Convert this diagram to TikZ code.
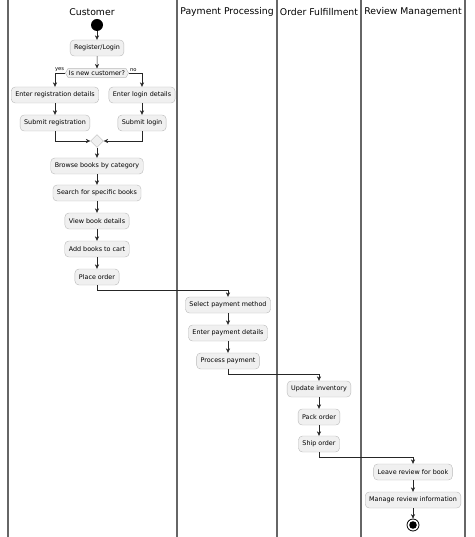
\documentclass[tikz,border=0pt]{standalone}
\usepackage{fontspec}
\setmainfont{DejaVu Sans}
\usetikzlibrary{arrows.meta,shapes.geometric,shapes.symbols}
\begin{document}
\begin{tikzpicture}[x=1pt,y=-1pt,
  act/.style={draw=gray!55,fill=gray!12,rounded corners=4pt,minimum height=16pt,
    inner xsep=4pt,inner ysep=1pt,font=\fontsize{6.4}{7.5}\selectfont},
  dec/.style={signal,signal to=west and east,signal pointer angle=120,draw=gray!55,
    fill=gray!12,inner xsep=1pt,inner ysep=2pt,font=\fontsize{6.4}{7.5}\selectfont},
  merge/.style={diamond,draw=gray!55,fill=gray!12,minimum size=13pt,inner sep=0pt},
  flow/.style={draw=black!85,line width=0.5pt,-{Stealth[length=4.5pt,width=4.2pt,inset=1.5pt]}},
  lane/.style={draw=black!60,line width=1.2pt},
  lanetitle/.style={font=\fontsize{9.3}{11}\selectfont},
  lbl/.style={font=\fontsize{5.2}{6}\selectfont,inner sep=1pt}]
  \useasboundingbox (0,0) rectangle (474,537);
  % Lanes
  \foreach \x in {8,177,277,361,465}
    \draw[lane] (\x,0) -- (\x,537);
  \node[lanetitle] (tcust) at (92,12) {Customer};
  \node[lanetitle] (tpay) at (227,12) {Payment Processing};
  \node[lanetitle] (tord) at (319,12) {Order Fulfillment};
  \node[lanetitle] (trev) at (413,12) {Review Management};
  % Customer
  \node[circle,fill=black,minimum size=12pt,inner sep=0pt] (start) at (97,25) {};
  \node[act] (login) at (97,48) {Register/Login};
  \node[dec] (isnew) at (97,73) {Is new customer?};
  \node[act] (entreg) at (55,95) {Enter registration details};
  \node[act] (entlog) at (142,95) {Enter login details};
  \node[act] (subreg) at (55,123) {Submit registration};
  \node[act] (sublog) at (142,123) {Submit login};
  \node[merge] (join) at (97,141) {};
  \node[act] (browse) at (97,166) {Browse books by category};
  \node[act] (search) at (97,193) {Search for specific books};
  \node[act] (view) at (97,221) {View book details};
  \node[act] (cart) at (97,249) {Add books to cart};
  \node[act] (place) at (97,277) {Place order};
  % Payment
  \node[act] (selpay) at (228,305) {Select payment method};
  \node[act] (entpay) at (228,333) {Enter payment details};
  \node[act] (propay) at (228,361) {Process payment};
  % Fulfillment
  \node[act] (inv) at (319,389) {Update inventory};
  \node[act] (pack) at (319,417) {Pack order};
  \node[act] (ship) at (319,444) {Ship order};
  % Review
  \node[act] (review) at (413,472) {Leave review for book};
  \node[act] (manage) at (413,500) {Manage review information};
  \node[circle,draw=black,line width=0.8pt,minimum size=12pt,inner sep=0pt] (stop) at (413,525) {};
  \fill (stop) circle (3.8pt);
  % Flow
  \draw[flow] (start) -- (login);
  \draw[flow] (login) -- (isnew);
  \draw[flow] (isnew.west) -| (entreg);
  \draw[flow] (isnew.east) -| (entlog);
  \node[lbl,above left] at (isnew.west) {yes};
  \node[lbl,above right] at (isnew.east) {no};
  \draw[flow] (entreg) -- (subreg);
  \draw[flow] (entlog) -- (sublog);
  \draw[flow] (subreg) |- (join);
  \draw[flow] (sublog) |- (join);
  \draw[flow] (join) -- (browse);
  \draw[flow] (browse) -- (search);
  \draw[flow] (search) -- (view);
  \draw[flow] (view) -- (cart);
  \draw[flow] (cart) -- (place);
  \draw[flow] (place.south) -- ++(0,5) -| (selpay);
  \draw[flow] (selpay) -- (entpay);
  \draw[flow] (entpay) -- (propay);
  \draw[flow] (propay.south) -- ++(0,5) -| (inv);
  \draw[flow] (inv) -- (pack);
  \draw[flow] (pack) -- (ship);
  \draw[flow] (ship.south) -- ++(0,5) -| (review);
  \draw[flow] (review) -- (manage);
  \draw[flow] (manage) -- (stop);
\end{tikzpicture}
\end{document}
